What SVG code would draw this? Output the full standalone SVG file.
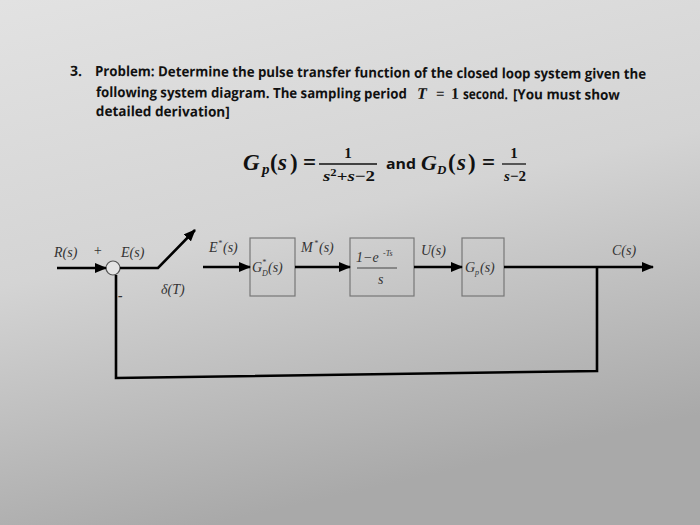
<svg xmlns="http://www.w3.org/2000/svg" width="700" height="525" viewBox="0 0 700 525">
<defs>
<linearGradient id="bg" x1="0" y1="0" x2="0.3" y2="1">
<stop offset="0" stop-color="#e2e2e2"/>
<stop offset="0.5" stop-color="#d4d4d4"/>
<stop offset="1" stop-color="#a9a9a9"/>
</linearGradient>
<marker id="ah" viewBox="0 0 12 10" refX="11" refY="5" markerWidth="12" markerHeight="10" markerUnits="userSpaceOnUse" orient="auto">
<path d="M0,0 L12,5 L0,10 z" fill="#000"/>
</marker>
</defs>
<style>
.q{font-family:"Open Sans","Liberation Sans",sans-serif;font-weight:bold;font-size:14px;fill:#111}
.m{font-family:"Liberation Serif",serif;font-weight:bold;fill:#111}
.mi{font-family:"Liberation Serif",serif;font-weight:bold;font-style:italic;fill:#111}
.lb{font-family:"Liberation Serif",serif;font-style:italic;font-size:14px;fill:#333}
.sm{font-family:"Liberation Serif",serif;font-style:italic;font-size:8px;fill:#333}
.box{fill:none;stroke:#777;stroke-width:1.2}
.w{fill:none;stroke:#000;stroke-width:2.6}
</style>
<rect width="700" height="525" fill="url(#bg)"/>
<g id="problem" transform="rotate(0.3 95 75)">
<text class="q" x="70" y="76">3.</text>
<text class="q" x="95" y="76" textLength="551" lengthAdjust="spacingAndGlyphs">Problem: Determine the pulse transfer function of the closed loop system given the</text>
<text class="q" x="96" y="97" textLength="311" lengthAdjust="spacingAndGlyphs">following system diagram. The sampling period</text>
<text class="mi" x="417" y="97" font-size="16" font-weight="normal">T</text>
<text class="m" x="436" y="97" font-size="15" font-weight="normal">=</text>
<text class="m" x="451" y="97" font-size="16">1</text>
<text class="q" x="463" y="97" textLength="45" lengthAdjust="spacingAndGlyphs">second.</text>
<text class="q" x="513" y="97" textLength="107" lengthAdjust="spacingAndGlyphs">[You must show</text>
<text class="q" x="96" y="116" textLength="134" lengthAdjust="spacingAndGlyphs">detailed derivation]</text>
</g>
<g id="formula">
<text class="mi" x="243" y="170" font-size="23">G</text>
<text class="mi" x="262" y="174" font-size="15">p</text>
<text class="m" x="270" y="170" font-size="23">(</text>
<text class="mi" x="278" y="170" font-size="23">s</text>
<text class="m" x="290" y="170" font-size="23">)</text>
<text class="m" x="303" y="170" font-size="23">=</text>
<text class="m" x="348" y="158" font-size="15" text-anchor="middle">1</text>
<line x1="319" y1="164" x2="377" y2="164" stroke="#111" stroke-width="1.3"/>
<text class="m" x="349" y="181" font-size="15" text-anchor="middle" textLength="52" lengthAdjust="spacingAndGlyphs"><tspan font-style="italic">s</tspan><tspan font-size="10" dy="-5">2</tspan><tspan dy="5">+</tspan><tspan font-style="italic">s</tspan>−2</text>
<text class="q" x="386" y="169" font-size="17" textLength="30" lengthAdjust="spacingAndGlyphs">and</text>
<text class="mi" x="421" y="170" font-size="22">G</text>
<text class="mi" x="437" y="174" font-size="13">D</text>
<text class="m" x="448" y="170" font-size="23">(</text>
<text class="mi" x="457" y="170" font-size="23">s</text>
<text class="m" x="468" y="170" font-size="23">)</text>
<text class="m" x="482" y="170" font-size="23">=</text>
<text class="m" x="514" y="158" font-size="15" text-anchor="middle">1</text>
<line x1="502" y1="164" x2="526" y2="164" stroke="#111" stroke-width="1.3"/>
<text class="m" x="515" y="181" font-size="15" text-anchor="middle"><tspan font-style="italic">s</tspan>−2</text>
</g>
<g id="sum">
<circle cx="113" cy="268" r="7" fill="#e4e4e4" stroke="#555" stroke-width="1.2"/>
<text class="lb" x="54" y="257">R(s)</text>
<text class="lb" x="93" y="255" font-style="normal">+</text>
<text class="lb" x="121" y="257">E(s)</text>
<text class="lb" x="118" y="300" font-style="normal" font-weight="bold">-</text>
</g>
<g id="sampler">
<text class="lb" x="161" y="294">δ(T)</text>
</g>
<g id="gd">
<rect class="box" x="250" y="238" width="45" height="58"/>
<text class="lb" x="252" y="272">G</text>
<text class="sm" x="262" y="265">*</text>
<text class="sm" x="262" y="276">D</text>
<text class="lb" x="268" y="272">(s)</text>
</g>
<g id="zoh">
<rect class="box" x="350" y="238" width="64" height="58"/>
<text class="lb" x="356" y="262" font-style="normal">1−<tspan font-style="italic">e</tspan></text>
<text class="sm" x="383" y="256">-Ts</text>
<line x1="357" y1="268" x2="397" y2="268" stroke="#444" stroke-width="1"/>
<text class="lb" x="378" y="284">s</text>
</g>
<g id="gp">
<rect class="box" x="462" y="238" width="42" height="58"/>
<text class="lb" x="465" y="272">G</text>
<text class="sm" x="475" y="275" font-size="9">p</text>
<text class="lb" x="480" y="272">(s)</text>
</g>
<g id="labels">
<text class="lb" x="209" y="252">E</text>
<text class="sm" x="218" y="246">*</text>
<text class="lb" x="223" y="252">(s)</text>
<text class="lb" x="301" y="252">M</text>
<text class="sm" x="314" y="246">*</text>
<text class="lb" x="319" y="252">(s)</text>
<text class="lb" x="421" y="255">U(s)</text>
<text class="lb" x="612" y="255">C(s)</text>
</g>
<g id="connectors">
<line class="w" x1="57" y1="268" x2="106" y2="268" marker-end="url(#ah)"/>
<polyline class="w" points="120,268 158,268 195,230" marker-end="url(#ah)"/>
<line class="w" x1="203" y1="267" x2="250" y2="267" marker-end="url(#ah)"/>
<line class="w" x1="295" y1="267" x2="350" y2="267" marker-end="url(#ah)"/>
<line class="w" x1="414" y1="267" x2="462" y2="267" marker-end="url(#ah)"/>
<line class="w" x1="504" y1="267" x2="653" y2="267" marker-end="url(#ah)"/>
<polyline class="w" points="597,267 597,371 116,378 116,275"/>
</g>
</svg>
